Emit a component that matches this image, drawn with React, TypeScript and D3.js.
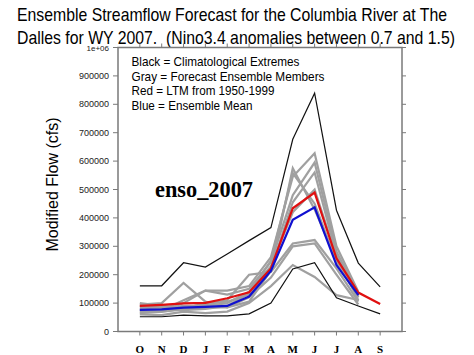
import React from "react";
import * as d3 from "d3";

const months = ["O", "N", "D", "J", "F", "M", "A", "M", "J", "J", "A", "S"];
const yTicks = [0, 100000, 200000, 300000, 400000, 500000, 600000, 700000, 800000, 900000, 1000000];
const yTickLabels = ["0", "100000", "200000", "300000", "400000", "500000", "600000", "700000", "800000", "900000", "1e+06"];

// values in thousands of cfs
const climMax = [161, 161, 242, 227, 273, 320, 366, 677, 839, 427, 241, 157];
const climMin = [52, 52, 58, 55, 55, 62, 100, 220, 242, 119, 90, 62];
const ltm = [90, 94, 99, 101, 117, 138, 222, 434, 489, 258, 137, 97];
const ensMean = [76, 78, 84, 87, 90, 123, 213, 393, 437, 234, 128];

const member1 = [95, 100, 171, 105, 85, 105, 215, 575, 430, 250, 120];
const member2 = [70, 75, 110, 144, 144, 160, 262, 545, 628, 300, 140];
const member3 = [80, 72, 100, 144, 130, 150, 245, 480, 595, 282, 132];
const member4 = [100, 90, 85, 95, 110, 200, 210, 310, 322, 222, 105];
const member5 = [65, 70, 78, 85, 85, 120, 190, 300, 310, 200, 95];
const member6 = [60, 58, 70, 65, 70, 100, 160, 234, 192, 128, 111];
const member7 = [85, 80, 90, 90, 100, 140, 230, 420, 500, 265, 125];
const member8 = [75, 70, 80, 100, 105, 130, 220, 455, 560, 270, 110];
const member9 = [90, 85, 75, 80, 90, 135, 250, 558, 450, 245, 120];
const members = [member1, member2, member3, member4, member5, member6, member7, member8, member9];

const legendLines = [
  "Black = Climatological Extremes",
  "Gray = Forecast Ensemble Members",
  "Red = LTM from 1950-1999",
  "Blue = Ensemble Mean",
];
const legendWidths = [168, 193, 143, 121];

export default function App() {
  const W = 474, H = 355;
  const x = d3.scaleLinear().domain([-1, 12]).range([118, 402]);
  const y = d3.scaleLinear().domain([0, 1000000]).range([331.5, 47.5]);
  const line = d3
    .line<number>()
    .x((_, i) => x(i))
    .y((d) => y(d * 1000));
  const axisColor = "#7a7a7a";
  const sans = "'Liberation Sans', Arial, Helvetica, sans-serif";
  const serif = "'Liberation Serif', 'Times New Roman', serif";
  return (
    <svg width={W} height={H} style={{ position: "absolute", left: 0, top: 0, background: "#fff" }}>
      <text transform="translate(17,20.5) scale(1,1.2)" x={0} y={0} fontFamily={sans} fontSize={15} fill="#000" textLength={430} lengthAdjust="spacingAndGlyphs">
        Ensemble Streamflow Forecast for the Columbia River at The
      </text>
      <text transform="translate(17,43.5) scale(1,1.2)" x={0} y={0} fontFamily={sans} fontSize={15} fill="#000" style={{ whiteSpace: "pre" }} textLength={438} lengthAdjust="spacingAndGlyphs">
        {"Dalles for WY 2007.  (Nino3.4 anomalies between 0.7 and 1.5)"}
      </text>
      <text
        transform={`translate(58,${(y(0) + y(1e6)) / 2 - 5}) rotate(-90)`}
        textAnchor="middle"
        fontFamily={sans}
        fontSize={17}
        fill="#000"
        textLength={134}
        lengthAdjust="spacingAndGlyphs"
      >
        Modified Flow (cfs)
      </text>

      {/* frame */}
      <rect x={x(-1)} y={y(1e6)} width={x(12) - x(-1)} height={y(0) - y(1e6)} fill="none" stroke={axisColor} strokeWidth={1.5} />
      {yTicks.map((t, i) => (
        <g key={"yt" + i}>
          <line x1={x(-1) - 5} x2={x(-1)} y1={y(t)} y2={y(t)} stroke={axisColor} strokeWidth={1} />
          <line x1={x(12)} x2={x(12) + 4} y1={y(t)} y2={y(t)} stroke={axisColor} strokeWidth={1} />
          <text x={x(-1) - 9} y={y(t) + 3} textAnchor="end" fontFamily={sans} fontSize={i === 10 ? 8 : 9} fill="#222">
            {yTickLabels[i]}
          </text>
        </g>
      ))}
      {months.map((m, i) => (
        <g key={"xt" + i}>
          <line x1={x(i)} x2={x(i)} y1={y(0)} y2={y(0) + 4} stroke={axisColor} strokeWidth={1} />
          <line x1={x(i)} x2={x(i)} y1={y(1e6)} y2={y(1e6) - 4} stroke={axisColor} strokeWidth={1} />
          <text x={x(i)} y={y(0) + 21} textAnchor="middle" fontFamily={serif} fontWeight="bold" fontSize={11} fill="#000">
            {m}
          </text>
        </g>
      ))}

      {legendLines.map((s, i) => (
        <text key={"lg" + i} x={131.5} y={66 + i * 14.5} fontFamily={sans} fontSize={13} fill="#000" textLength={legendWidths[i]} lengthAdjust="spacingAndGlyphs">
          {s}
        </text>
      ))}
      <text x={155} y={197} fontFamily={serif} fontWeight="bold" fontSize={23} fill="#000" textLength={98} lengthAdjust="spacingAndGlyphs">
        enso_2007
      </text>

      {members.map((m, i) => (
        <path key={"m" + i} d={line(m) || ""} fill="none" stroke="#a0a0a0" strokeWidth={2.2} />
      ))}
      <path d={line(climMax) || ""} fill="none" stroke="#111" strokeWidth={1.2} />
      <path d={line(climMin) || ""} fill="none" stroke="#111" strokeWidth={1.2} />
      <path d={line(ltm) || ""} fill="none" stroke="#e01010" strokeWidth={2.2} />
      <path d={line(ensMean) || ""} fill="none" stroke="#1010d0" strokeWidth={2.2} />
    </svg>
  );
}
